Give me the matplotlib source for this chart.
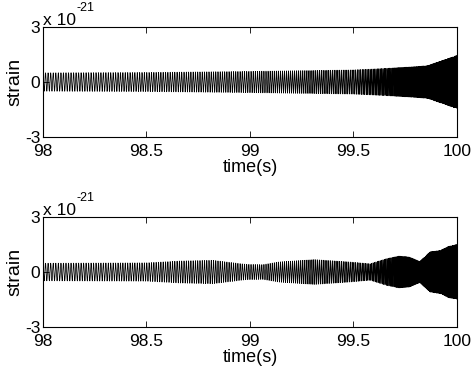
import numpy as np
import matplotlib.pyplot as plt

plt.rcParams['font.family'] = ['Liberation Sans', 'DejaVu Sans']
plt.rcParams['font.size'] = 12.5

# envelope of the strain (units of 1e-21)
env_t_top = [98.0, 98.5, 99.0, 99.5, 99.65, 99.8, 99.86, 99.91, 99.95, 100.0]
env_a_top = [0.50, 0.52, 0.58, 0.66, 0.74, 0.84, 0.90, 1.10, 1.25, 1.45]

env_t_bot = [98.0, 98.5, 98.66, 98.82, 98.98, 99.06, 99.14, 99.31, 99.48,
             99.58, 99.66, 99.72, 99.77, 99.82, 99.87, 99.92, 99.96, 100.0]
env_a_bot = [0.48, 0.50, 0.60, 0.64, 0.42, 0.40, 0.55, 0.68, 0.55,
             0.45, 0.73, 0.87, 0.82, 0.58, 1.10, 1.18, 1.40, 1.50]

# instantaneous frequency of the chirp (Hz)
freq_t = [98.0, 99.0, 99.5, 99.7, 99.9, 100.0]
freq_hz = [80, 95, 118, 165, 250, 320]

xticks = [98, 98.5, 99, 99.5, 100]
yticks = [-3, 0, 3]

fs = 4096
t = np.arange(98.0, 100.0, 1.0 / fs)
phase = 2 * np.pi * np.cumsum(np.interp(t, freq_t, freq_hz)) / fs

fig = plt.figure(figsize=(4.74, 3.79), dpi=100)
ax1 = fig.add_axes([0.0907, 0.6385, 0.8734, 0.2902])
ax2 = fig.add_axes([0.0907, 0.1372, 0.8734, 0.2902])

for ax, et, ea in [(ax1, env_t_top, env_a_top), (ax2, env_t_bot, env_a_bot)]:
    h = np.interp(t, et, ea) * np.cos(phase)
    ax.plot(t, h, color='k', linewidth=0.55)
    ax.set_xlim(98, 100)
    ax.set_ylim(-3, 3)
    ax.set_xticks(xticks)
    ax.set_xticklabels(['98', '98.5', '99', '99.5', '100'])
    ax.set_yticks(yticks)
    ax.set_yticklabels(['-3', '0', '3'])
    ax.tick_params(axis='x', direction='in', length=4, width=0.6, top=True, pad=5)
    ax.tick_params(axis='y', direction='in', length=4, width=0.6, right=True, pad=2)
    for s in ax.spines.values():
        s.set_linewidth(0.8)
    ax.set_xlabel('time(s)', labelpad=0, fontsize=13)
    ax.set_ylabel('strain', labelpad=1, fontsize=14)
    ax.text(0.0, 0.99, 'x 10', transform=ax.transAxes, ha='left', va='bottom')
    ax.text(0.082, 1.12, '-21', transform=ax.transAxes, ha='left', va='bottom', fontsize=9)

fig.savefig('out.png', dpi=100)
